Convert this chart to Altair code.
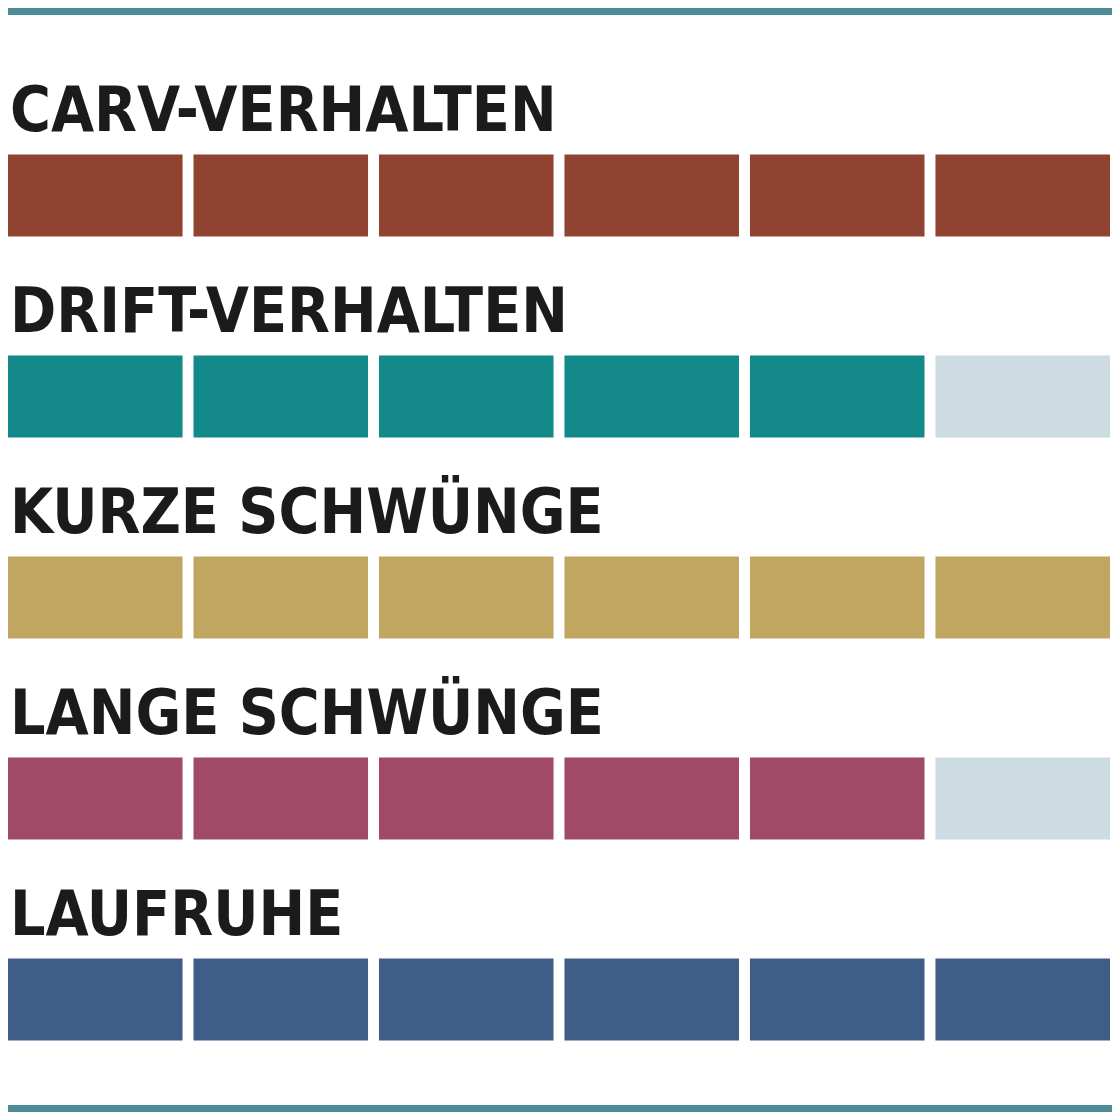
import altair as alt
import pandas as pd

categories = ["CARV-VERHALTEN", "DRIFT-VERHALTEN", "KURZE SCHWÜNGE", "LANGE SCHWÜNGE", "LAUFRUHE"]
scores = [6, 5, 6, 5, 6]
max_score = 6
bar_colors = ["#904331", "#14898a", "#c1a662", "#a04a68", "#3f5d86"]
empty_color = "#cddbe3"
border_color = "#4b8b96"

rows = []
for cat, s, col in zip(categories, scores, bar_colors):
    for seg in range(1, max_score + 1):
        rows.append({"category": cat, "segment": seg,
                     "fill": col if seg <= s else empty_color})
df = pd.DataFrame(rows)
labels = pd.DataFrame({"category": categories})

W = 1102
H = 1005

xscale = alt.Scale(domain=list(range(1, max_score + 1)), paddingInner=0.059, paddingOuter=0)
yscale = alt.Scale(domain=categories, paddingInner=0, paddingOuter=0)

bars = alt.Chart(df).mark_bar(height=82, cornerRadius=0).encode(
    x=alt.X("segment:O", scale=xscale, axis=None),
    y=alt.Y("category:N", scale=yscale, axis=None, sort=categories),
    color=alt.Color("fill:N", scale=None, legend=None),
)

text = alt.Chart(labels).mark_text(
    align="left", baseline="alphabetic", dy=-65, dx=2,
    font="DejaVu Sans Condensed, sans-serif",
    fontWeight="bold", fontSize=62, color="#1b1b1b",
).encode(
    x=alt.X(datum=1, bandPosition=0, scale=xscale, axis=None),
    y=alt.Y("category:N", scale=yscale, sort=categories, axis=None),
    text="category:N",
)

top_rule = alt.Chart(labels.head(1)).mark_rule(color=border_color, strokeWidth=7).encode(
    x=alt.value(-8), x2=alt.value(W + 10), y=alt.value(-83.5)
)
bottom_rule = alt.Chart(labels.head(1)).mark_rule(color=border_color, strokeWidth=8).encode(
    x=alt.value(-8), x2=alt.value(W + 10), y=alt.value(1014)
)

chart = alt.layer(bars, text, top_rule, bottom_rule).properties(
    width=W, height=H,
    autosize=alt.AutoSizeParams(type="none"),
    padding={"top": 87, "left": 0, "right": 2, "bottom": 12},
    background="white",
).configure_view(stroke=None)

chart.save("out.html", embed_options={"renderer": "svg", "actions": False})
